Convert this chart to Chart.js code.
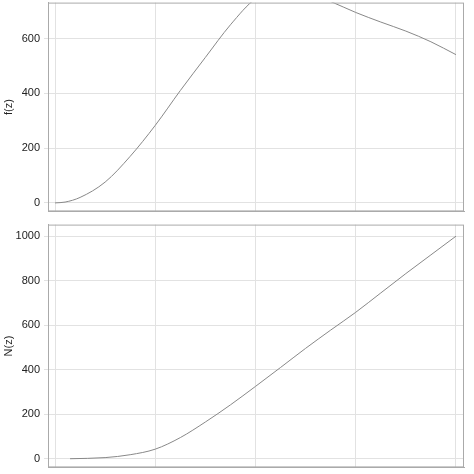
<!DOCTYPE html><html><head><script src="https://cdn.jsdelivr.net/npm/chart.js"></script>
<style>body{margin:0;background:#fff;overflow:hidden}#a{position:absolute;left:0;top:-8px;width:474px;height:230px}#b{position:absolute;left:0;top:214px;width:474px;height:264px}</style></head><body>
<div id="a"><canvas id="c1"></canvas></div><div id="b"><canvas id="c2"></canvas></div>
<script>
const zF=[0,0.1,0.25,0.5,0.75,1,1.25,1.5,1.75,2,2.25,2.5,2.75,3,3.25,3.5,3.75,4];
const fVals=[0,3,20,76,170,283,410,531,650,745,780,770,735,695,660,627,588,541];
const zN=[0.15,0.5,0.75,1,1.25,1.5,1.75,2,2.25,2.5,2.75,3,3.25,3.5,3.75,4];
const nVals=[0,5,18,43,95,165,242,325,410,496,578,658,745,832,916,1000];
const fTicks=[0,200,400,600];
const nTicks=[0,200,400,600,800,1000];
Chart.defaults.font.family='Liberation Sans';Chart.defaults.font.size=11;Chart.defaults.color='#222';
const frame={id:'frame',afterDraw(c){const a=c.chartArea,x=c.ctx;x.save();x.strokeStyle='#aaa';x.lineWidth=1;x.strokeRect(a.left+0.5,a.top+0.5,a.right-a.left-1,a.bottom-a.top-1);x.restore();}};
function mk(id,xs,ys,ymin,ymax,ticks,title,bottomPad){
 new Chart(document.getElementById(id),{type:'line',plugins:[frame],data:{datasets:[{data:xs.map((x,i)=>({x,y:ys[i]})),borderColor:'#888',borderWidth:1,pointRadius:0,cubicInterpolationMode:'monotone',fill:false}]},
 options:{animation:false,responsive:true,maintainAspectRatio:false,plugins:{legend:{display:false},tooltip:{enabled:false}},layout:{padding:{right:10,top:0,bottom:bottomPad}},
 scales:{x:{type:'linear',min:-0.07,max:4.08,afterFit:a=>{a.height=0},afterBuildTicks:a=>{a.ticks=[0,1,2,3,4].map(v=>({value:v}))},ticks:{display:false},grid:{color:'#e2e2e2',drawTicks:false},border:{color:'#aaa'}},
 y:{min:ymin,max:ymax,afterFit:a=>{a.width=48},afterBuildTicks:a=>{a.ticks=ticks.map(v=>({value:v}))},ticks:{padding:4,callback:v=>String(v)},grid:{color:'#e2e2e2',drawTicks:true,tickLength:4},border:{color:'#aaa'},title:{display:true,text:title,padding:2}}}}});
}
mk('c1',zF,fVals,-31,731,fTicks,'f(z)',0);
mk('c2',zN,nVals,-39,1052,nTicks,'N(z)',0);
</script></body></html>
